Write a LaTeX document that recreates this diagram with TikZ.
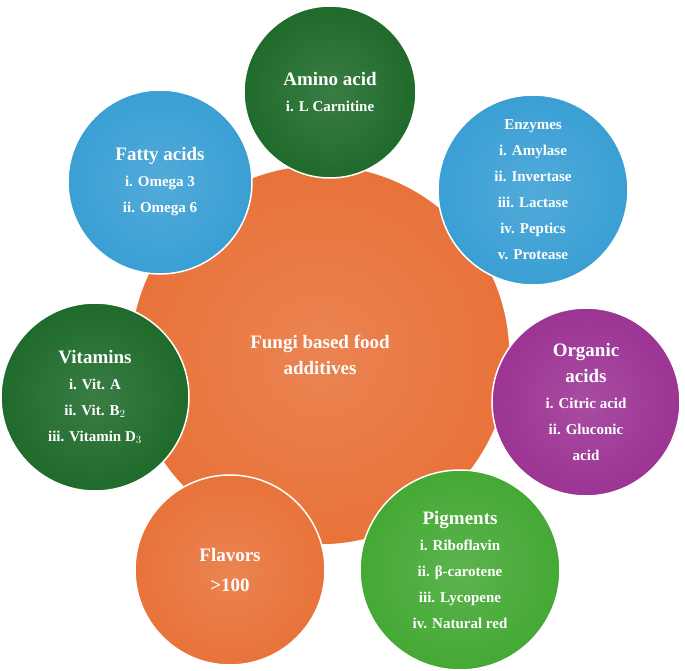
\documentclass[tikz,border=0pt]{standalone}
\usepackage{fontspec}
\setmainfont{Liberation Serif}
\definecolor{hubor}{HTML}{E8733A}
\definecolor{dkgreen}{HTML}{1F6B2B}
\definecolor{skyblue}{HTML}{3A9FD4}
\definecolor{plum}{HTML}{9C3494}
\definecolor{ltgreen}{HTML}{45A935}
\tikzset{bubble/.style={circle,draw=white,line width=1.5pt,shading=radial,inner color=#1!88!white,outer color=#1,
    text=white,font=\bfseries\fontsize{15}{26}\selectfont,align=center}}
\newcommand{\bubble}[6]{\node[bubble=#5,minimum size=#4*2pt] (#1) at (#2,#3) {#6};}
\newcommand{\ttl}[1]{{\fontsize{19}{26}\selectfont #1}}
\begin{document}
\begin{tikzpicture}[x=1pt,y=-1pt]
    \useasboundingbox (0,0) rectangle (685,671);
    \bubble{hub}{320}{355}{190}{hubor}{\ttl{Fungi based food}\\\ttl{additives}}
    \bubble{amino}{330}{92}{86}{dkgreen}{\ttl{Amino acid}\\i. L Carnitine}
    \bubble{fatty}{160}{182}{92}{skyblue}{\ttl{Fatty acids}\\i. Omega 3\\ii. Omega 6}
    \bubble{enzymes}{533}{190}{95}{skyblue}{{\fontsize{15}{26}\selectfont Enzymes}\\i. Amylase\\ii. Invertase\\iii. Lactase\\iv. Peptics\\v. Protease}
    \bubble{vitamins}{95}{397}{94}{dkgreen}{\ttl{Vitamins}\\i. Vit. A\\ii. Vit. B$_2$\\iii. Vitamin D$_3$}
    \bubble{organic}{586}{402}{94}{plum}{\ttl{Organic}\\\ttl{acids}\\i. Citric acid\\ii. Gluconic\\acid}
    \bubble{flavors}{230}{570}{95}{hubor}{\ttl{Flavors}\\[4pt]\ttl{>100}}
    \bubble{pigments}{460}{570}{100}{ltgreen}{\ttl{Pigments}\\i. Riboflavin\\ii. β-carotene\\iii. Lycopene\\iv. Natural red}
\end{tikzpicture}
\end{document}
